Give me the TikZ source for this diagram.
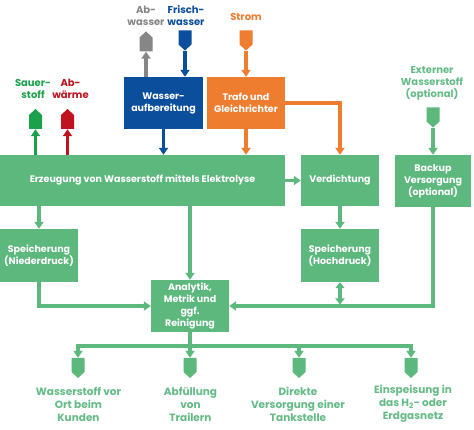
\documentclass[tikz,border=0pt]{standalone}
\usepackage{fontspec}
\setmainfont{Poppins}
\usetikzlibrary{arrows.meta,calc}
\definecolor{hgreen}{HTML}{5CB87D}
\definecolor{lgreen}{HTML}{64BB87}
\definecolor{dblue}{HTML}{0B4E9B}
\definecolor{orng}{HTML}{EE7D30}
\definecolor{grayc}{HTML}{868686}
\definecolor{ogreen}{HTML}{1BA14B}
\definecolor{redc}{HTML}{C1121F}
\begin{document}
\begin{tikzpicture}[x=1pt,y=-1pt,
 box/.style={fill=#1, text=white, inner sep=0pt, align=center, font=\fontsize{9.5}{12}\selectfont\bfseries},
 conn/.style={draw=#1, line width=3.1pt, -{Triangle[length=7pt,width=9pt]}},
 plain/.style={draw=#1, line width=3.1pt},
 lab/.style={text=#1, align=center, font=\fontsize{10}{12}\selectfont\bfseries, inner sep=0pt},
 olab/.style={text=lgreen, align=center, font=\fontsize{10.5}{13}\selectfont\bfseries, inner sep=0pt},
 tagd/.style={inner sep=0pt, minimum width=13pt, minimum height=20pt, path picture={\fill[#1] (path picture bounding box.north west) -- (path picture bounding box.north east) -- ([yshift=6pt]path picture bounding box.south east) -- (path picture bounding box.south) -- ([yshift=6pt]path picture bounding box.south west) -- cycle;}},
 tagu/.style={inner sep=0pt, minimum width=13pt, minimum height=20pt, path picture={\fill[#1] (path picture bounding box.south west) -- (path picture bounding box.south east) -- ([yshift=-6pt]path picture bounding box.north east) -- (path picture bounding box.north) -- ([yshift=-6pt]path picture bounding box.north west) -- cycle;}},
]
\fill[white] (0,0) rectangle (474,430);
\useasboundingbox (0,0) rectangle (474,430);

% boxes
\node[box=dblue, minimum width=79pt, minimum height=52pt] (wa) at (163.5,103) {Wasser-\\aufbereitung};
\node[box=orng, minimum width=78pt, minimum height=52pt] (trafo) at (246,103) {Trafo und\\Gleichrichter};
\node[box=hgreen, minimum width=285pt, minimum height=51pt] (erz) at (142.5,180.5) {Erzeugung von Wasserstoff mittels Elektrolyse};
\node[box=hgreen, minimum width=78pt, minimum height=51pt] (verd) at (340,180.5) {Verdichtung};
\node[box=hgreen, minimum width=76pt, minimum height=52pt] (backup) at (433,181) {Backup\\Versorgung\\(optional)};
\node[box=hgreen, minimum width=78pt, minimum height=53pt] (spn) at (39,255.5) {Speicherung\\(Niederdruck)};
\node[box=hgreen, minimum width=78pt, minimum height=53pt] (sph) at (340,255.5) {Speicherung\\(Hochdruck)};
\node[box=hgreen, minimum width=78pt, minimum height=52pt] (ana) at (190,306) {Analytik,\\Metrik und\\ggf.\\Reinigung};

% tags
\node[tagu=grayc] (tgray) at (146,41.5) {};
\node[tagd=dblue] (tblue) at (185,40.5) {};
\node[tagd=orng] (torng) at (246,40.5) {};
\node[tagu=ogreen] (tox) at (35.5,119) {};
\node[tagu=redc] (theat) at (67.5,119) {};
\node[tagd=hgreen] (tex) at (433,117.5) {};
\node[tagd=hgreen] (to1) at (78,368) {};
\node[tagd=hgreen] (to2) at (190,368) {};
\node[tagd=hgreen] (to3) at (299,368) {};
\node[tagd=hgreen] (to4) at (411,368) {};

% labels
\node[lab=grayc] (lgray) at (146,16) {Ab-\\wasser};
\node[lab=dblue] (lblue) at (186,16) {Frisch-\\wasser};
\node[lab=orng] (lorng) at (246,17) {Strom};
\node[lab=ogreen] (lox) at (33,89) {Sauer-\\stoff};
\node[lab=redc] (lheat) at (70.5,89) {Ab-\\wärme};
\node[lab=lgreen] (lext) at (432,83) {Externer\\Wasserstoff\\(optional)};
\node[olab] (lo1) at (78.5,404) {Wasserstoff vor\\Ort beim\\Kunden};
\node[olab] (lo2) at (190.5,404) {Abfüllung\\von\\Trailern};
\node[olab] (lo3) at (298,404) {Direkte\\Versorgung einer\\Tankstelle};
\node[olab] (lo4) at (413,404) {Einspeisung in\\das H\textsubscript{2}- oder\\Erdgasnetz};

% connectors
\draw[conn=grayc] (tgray.south |- wa.north) -- (tgray.south);
\draw[conn=dblue] (tblue.south) -- (tblue.south |- wa.north);
\draw[conn=dblue] (wa.south) -- (wa.south |- erz.north);
\draw[conn=orng] (torng.south) -- (trafo.north);
\draw[conn=orng] (trafo.south) -- (trafo.south |- erz.north);
\draw[conn=orng] (trafo.east) -| (verd.north);
\draw[conn=ogreen] (tox.south |- erz.north) -- (tox.south);
\draw[conn=redc] (theat.south |- erz.north) -- (theat.south);
\draw[conn=hgreen] (erz.east) -- (verd.west);
\draw[conn=hgreen] (verd.south) -- (sph.north);
\draw[conn=hgreen] (tex.south) -- (backup.north);
\draw[conn=hgreen] (spn.north |- erz.south) -- (spn.north);
\draw[conn=hgreen] (ana.north |- erz.south) -- (ana.north);
\draw[conn=hgreen] (spn.south) |- (ana.west);
\draw[conn=hgreen] (backup.south) |- (ana.east);
\draw[plain=hgreen, {Triangle[length=6pt,width=9pt]}-{Triangle[length=6pt,width=9pt]}, shorten >=1.5pt] (sph.south) -- (sph.south |- ana.east);
\coordinate (split) at (190,346);
\draw[plain=hgreen] (ana.south) -- (split);
\draw[conn=hgreen] (split) -| (to1.north);
\draw[conn=hgreen] (split) -- (to2.north);
\draw[conn=hgreen] (split) -| (to4.north);
\draw[conn=hgreen] (to3.north |- split) -- (to3.north);
\end{tikzpicture}
\end{document}
